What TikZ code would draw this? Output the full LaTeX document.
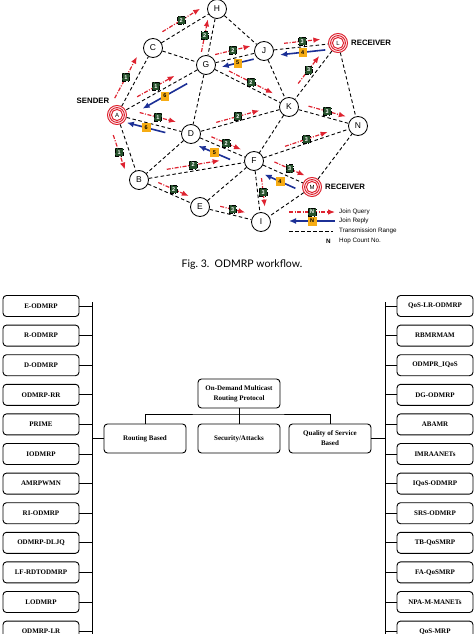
\documentclass[tikz,border=0pt]{standalone}
\usepackage{fontspec}
\setmainfont{Liberation Serif}
\setsansfont{Liberation Sans}
\newfontfamily\capfont{Lato}
\usepackage{tikz}
\usetikzlibrary{arrows.meta,calc,positioning}

\definecolor{qred}{RGB}{222,35,48}
\definecolor{rblue}{RGB}{28,48,150}
\definecolor{hopgreen}{RGB}{38,82,44}
\definecolor{hoporange}{RGB}{246,172,20}

\tikzset{
  host/.style={circle,draw,line width=.8pt,fill=white,minimum size=19pt,inner sep=0pt,font=\sffamily\fontsize{8.5}{9}\selectfont},
  receiver/.style={host,draw=qred,line width=1pt,font=\sffamily\fontsize{6}{7}\selectfont},
  link/.style={draw=black,line width=.9pt,dash pattern=on 3.5pt off 2.5pt},
  query/.style={draw=qred,line width=1.2pt,dash pattern=on 4pt off 1.5pt on 1pt off 1.5pt,-{Latex[length=7pt,width=5.5pt]}},
  reply/.style={draw=rblue,line width=1.6pt,-{Latex[length=7pt,width=6pt]}},
  hop/.style={fill=hopgreen,draw=black,line width=.5pt,text=white,font=\sffamily\bfseries\fontsize{5.5}{6}\selectfont,inner sep=0pt,minimum width=7.5pt,minimum height=8pt},
  ret/.style={hop,fill=hoporange,draw=hoporange,text=black},
  tag/.style={font=\sffamily\bfseries\fontsize{7.8}{9}\selectfont,inner sep=0pt},
  legend/.style={font=\sffamily\fontsize{6.3}{7}\selectfont,anchor=west,inner sep=0pt},
  ring/.style={draw=qred,line width=1pt},
  proto/.style={draw,line width=.9pt,rounded corners=3.5pt,minimum width=76pt,minimum height=21pt,inner sep=1pt,font=\bfseries\fontsize{7}{10}\selectfont,align=center},
  branch/.style={proto,minimum width=82pt,minimum height=29pt},
  wire/.style={line width=.9pt}
}

\newcommand{\JoinQuery}[6]{%
  \draw[query] ($(#1)!#3!(#2)!#5!90:(#2)$) -- ($(#1)!#4!(#2)!#5!90:(#2)$) node[hop,midway]{#6};}
\newcommand{\JoinReply}[6]{%
  \draw[reply] ($(#1)!#3!(#2)!#5!90:(#2)$) -- ($(#1)!#4!(#2)!#5!90:(#2)$) node[ret,midway]{#6};}

\begin{document}
\begin{tikzpicture}[x=1pt,y=-1pt]
\useasboundingbox (0,0) rectangle (474,634);

\node[receiver] (A) at (117,115) {A};
\node[host] (B) at (139,180) {B};
\node[host] (C) at (153,48) {C};
\node[host] (D) at (191,134) {D};
\node[host] (E) at (200,207) {E};
\node[host] (F) at (254,161) {F};
\node[host] (G) at (206,65) {G};
\node[host] (H) at (217,9) {H};
\node[host] (I) at (261,222) {I};
\node[host] (J) at (264,51) {J};
\node[host] (K) at (289,107) {K};
\node[receiver] (L) at (338,43) {L};
\node[receiver] (M) at (312,187) {M};
\node[host] (N) at (358,126) {N};

\draw[ring] (A) circle (7.4pt) (A) circle (5.6pt);
\draw[ring] (L) circle (7.4pt) (L) circle (5.6pt);
\draw[ring] (M) circle (7.4pt) (M) circle (5.6pt);

\draw[link] (A) -- (C);
\draw[link] (C) -- (H);
\draw[link] (H) -- (G);
\draw[link] (H) -- (J);
\draw[link] (C) -- (G);
\draw[link] (G) -- (J);
\draw[link] (G) -- (A);
\draw[link] (G) -- (D);
\draw[link] (G) -- (K);
\draw[link] (J) -- (L);
\draw[link] (J) -- (K);
\draw[link] (L) -- (K);
\draw[link] (L) -- (N);
\draw[link] (K) -- (N);
\draw[link] (K) -- (D);
\draw[link] (K) -- (F);
\draw[link] (A) -- (D);
\draw[link] (A) -- (B);
\draw[link] (D) -- (B);
\draw[link] (D) -- (F);
\draw[link] (B) -- (F);
\draw[link] (B) -- (E);
\draw[link] (E) -- (F);
\draw[link] (E) -- (I);
\draw[link] (F) -- (I);
\draw[link] (F) -- (N);
\draw[link] (F) -- (M);
\draw[link] (M) -- (N);
\draw[link] (M) -- (I);

\JoinQuery{A}{C}{.18}{.80}{10pt}{1}
\JoinQuery{C}{H}{.22}{.81}{9pt}{2}
\JoinQuery{G}{H}{.21}{.79}{7pt}{2}
\JoinQuery{A}{G}{.26}{.68}{6pt}{1}
\JoinReply{G}{A}{.25}{.75}{7pt}{6}
\JoinQuery{A}{D}{.28}{.77}{8pt}{1}
\JoinReply{D}{A}{.33}{.85}{5pt}{6}
\JoinQuery{A}{B}{.26}{.79}{-10pt}{1}
\JoinQuery{G}{J}{.19}{.80}{8pt}{2}
\JoinReply{J}{G}{.20}{.75}{5.5pt}{5}
\JoinQuery{G}{K}{.25}{.78}{5pt}{2}
\JoinQuery{J}{L}{.28}{.77}{5.5pt}{3}
\JoinReply{L}{J}{.18}{.79}{5.5pt}{4}
\JoinQuery{K}{L}{.30}{.73}{7pt}{3}
\JoinQuery{K}{N}{.26}{.80}{6pt}{3}
\JoinQuery{D}{K}{.27}{.71}{4.5pt}{2}
\JoinQuery{D}{F}{.29}{.76}{5.5pt}{2}
\JoinReply{F}{D}{.33}{.83}{8pt}{5}
\JoinQuery{B}{F}{.25}{.71}{6pt}{2}
\JoinQuery{F}{N}{.31}{.72}{4pt}{3}
\JoinQuery{F}{M}{.30}{.82}{7.5pt}{3}
\JoinReply{M}{F}{.23}{.76}{8pt}{4}
\JoinQuery{F}{I}{.29}{.76}{5.5pt}{3}
\JoinQuery{B}{E}{.28}{.78}{5.5pt}{2}
\JoinQuery{E}{I}{.31}{.72}{5.5pt}{3}

\node[tag] (sender) at (93,101) {SENDER};
\node[tag,right=3pt of L] (recvL) {RECEIVER};
\node[tag,right=3pt of M] (recvM) {RECEIVER};

\coordinate (q1) at (289,212);
\coordinate (q2) at (335,212);
\coordinate (r1) at (335,221);
\coordinate (r2) at (289,221);
\coordinate (t1) at (289,231);
\coordinate (t2) at (333,231);
\draw[query] (q1) -- (q2) node[hop,midway]{N};
\draw[reply] (r1) -- (r2) node[ret,midway]{N};
\draw[link] (t1) -- (t2);
\node[legend] (lq) at (339,212) {Join Query};
\node[legend] (lr) at (339,221) {Join Reply};
\node[legend] (lt) at (339,231) {Transmission Range};
\node[legend] (lh) at (339,241) {Hop Count No.};
\node[legend,font=\sffamily\bfseries\fontsize{6.3}{7}\selectfont] (ln) at (326,241) {N};

\node[font=\capfont\fontsize{10.5}{12}\selectfont] (caption) at (242,265) {Fig.~3.\ \ ODMRP workflow.};

\node[branch] (odmrp) at (239,393.5) {On-Demand Multicast\\Routing Protocol};
\node[branch] (routing) at (145,438.5) {Routing Based};
\node[branch] (security) at (239,438.5) {Security/Attacks};
\node[branch] (qos) at (330,438.5) {Quality of Service\\Based};

\coordinate (bus) at (239,414);
\draw[wire] (odmrp) -- (security);
\draw[wire] (routing.north) |- (bus) -| (qos.north);

\foreach \name [count=\i from 0] in {E-ODMRP,R-ODMRP,D-ODMRP,ODMRP-RR,PRIME,IODMRP,AMRPWMN,RI-ODMRP,ODMRP-DLJQ,LF-RDTODMRP,LODMRP,ODMRP-LR}
  \node[proto] (lp\i) at (41,{306+29.6*\i}) {\name};
\foreach \name [count=\i from 0] in {QoS-LR-ODMRP,RBMRMAM,ODMPR\_IQoS,DG-ODMRP,ABAMR,IMRAANETs,IQoS-ODMRP,SRS-ODMRP,TB-QoSMRP,FA-QoSMRP,NPA-M-MANETs,QoS-MRP}
  \node[proto] (rp\i) at (435,{306+29.6*\i}) {\name};

\coordinate (ltop) at (92,302);
\coordinate (lend) at (92,640);
\coordinate (rtop) at (385,302);
\coordinate (rend) at (385,640);
\draw[wire] (ltop) -- (lend);
\draw[wire] (rtop) -- (rend);
\foreach \i in {0,...,11}{
  \draw[wire] (lp\i.east) -- (lp\i.east -| ltop);
  \draw[wire] (rp\i.west) -- (rp\i.west -| rtop);
}
\draw[wire] (routing.west) -- (routing.west -| ltop);
\draw[wire] (qos.east) -- (qos.east -| rtop);

\end{tikzpicture}
\end{document}
